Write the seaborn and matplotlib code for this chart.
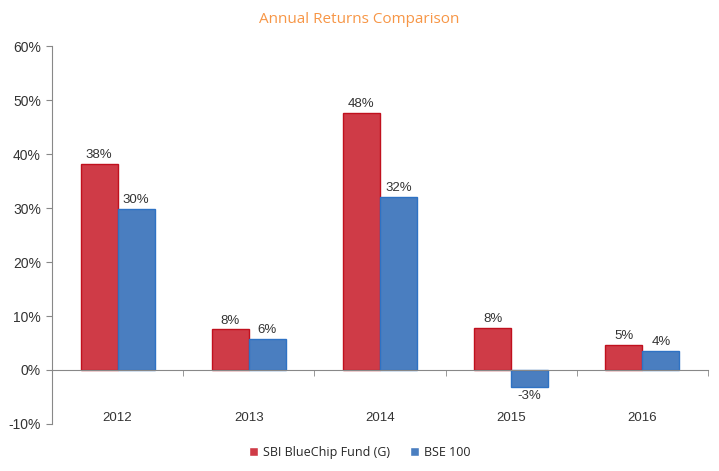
import pandas as pd
import matplotlib.pyplot as plt
import seaborn as sns
import numpy as np

# Values (annual returns, %)
years = ["2012", "2013", "2014", "2015", "2016"]
sbi_bluechip = [38.1, 7.5, 47.6, 7.8, 4.7]
bse_100 = [29.8, 5.7, 32.1, -3.2, 3.5]
series_names = ["SBI BlueChip Fund (G)", "BSE 100"]
y_ticks = [-10, 0, 10, 20, 30, 40, 50, 60]

df = pd.DataFrame({
    "year": years * 2,
    "ret": sbi_bluechip + bse_100,
    "series": [series_names[0]] * len(years) + [series_names[1]] * len(years),
})

sns.set_style("white")
plt.rcParams['font.family'] = ['Liberation Sans', 'DejaVu Sans']

fig = plt.figure(figsize=(7.19, 4.71), dpi=100)
ax = fig.add_axes([0.0723, 0.0998, 0.9124, 0.8025])

colors = ["#CF3B47", "#4A7EC0"]
edges = ["#C0101E", "#2E72C4"]
sns.barplot(data=df, x="year", y="ret", hue="series", palette=colors,
            saturation=1, width=0.565, ax=ax, legend=True)

for cont, ec in zip(ax.containers, edges):
    for bar in cont:
        bar.set_edgecolor(ec)
        bar.set_linewidth(1.0)
    ax.bar_label(cont, labels=[f"{v:.0f}%" for v in cont.datavalues],
                 padding=2, fontsize=9.5, color="#333333")

ax.set_xlim(-0.5, 4.5)
ax.set_ylim(-10, 60)
ax.set_yticks(y_ticks)
ax.set_yticklabels([f"{t}%" for t in y_ticks], fontsize=10, color="#333333")
ax.set_xlabel("")
ax.set_ylabel("")

# axis lines
for s in ["top", "right"]:
    ax.spines[s].set_visible(False)
ax.spines["left"].set_color("#888888")
ax.spines["bottom"].set_color("#888888")
ax.spines["bottom"].set_position(("data", 0))
ax.tick_params(axis="y", which="major", left=True, length=4, color="#888888", pad=4)

# category labels near the bottom, boundary ticks on the zero line
ax.set_xticks(range(len(years)))
ax.set_xticklabels(years, fontsize=9.5, color="#333333")
ax.tick_params(axis="x", which="major", bottom=True, length=0, pad=30)
ax.set_xticks(np.arange(-0.5, len(years), 1.0), minor=True)
ax.tick_params(axis="x", which="minor", bottom=True, length=4, color="#888888")

ax.legend_.remove()
handles, labels = ax.get_legend_handles_labels()
fig.legend(handles[:2], labels[:2], loc="center", bbox_to_anchor=(0.5, 0.04),
           ncol=2, frameon=False, handlelength=0.7, handleheight=0.7,
           handletextpad=0.4, columnspacing=1.6,
           prop={"family": "Open Sans", "size": 9})

fig.text(0.5, 0.958, "Annual Returns Comparison", ha="center", va="center",
         fontsize=11, color="#F79646", family="Open Sans")

fig.savefig("out.png", dpi=100)
